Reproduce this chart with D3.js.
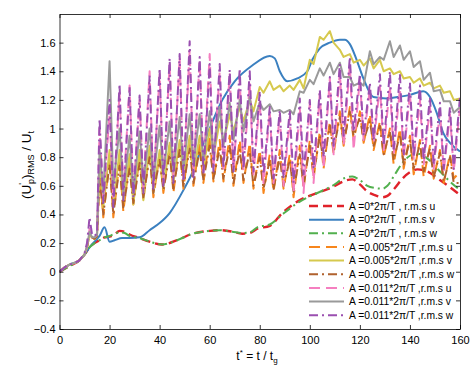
<html><head>
<meta charset="utf-8">
<title>RMS velocity fluctuation</title>
<script src="https://d3js.org/d3.v7.min.js"></script>
<style>
  body { margin: 0; background: #fff; }
  svg text { font-family: "Liberation Sans", Arial, sans-serif; fill: #000; }
  .axis path, .axis line { stroke: #000; stroke-width: 0.8; }
  .axis text { font-size: 11px; }
  .legend text { font-size: 10.3px; }
</style>
</head>
<body>
<svg id="chart" width="474" height="372"></svg>
<script>

// ---- data ----
const xTicks = [0, 20, 40, 60, 80, 100, 120, 140, 160];
const yTicks = [-0.4, -0.2, 0, 0.2, 0.4, 0.6, 0.8, 1, 1.2, 1.4, 1.6];
const yTickLabels = ["\u22120.4", "\u22120.2", "0", "0.2", "0.4", "0.6", "0.8", "1", "1.2", "1.4", "1.6"];

// A = 0 runs (smooth)
const tUW0 = [0, 4, 8, 10, 12, 14, 16, 18, 20, 22,
  24, 26, 28, 32, 36, 41, 47, 53, 60, 64,
  69, 73, 76, 79, 84, 89, 96, 103, 109, 114,
  117, 120, 123, 126, 129, 131, 134, 137, 140, 143,
  147, 152, 156, 160];
const u0 = [0, 0.04, 0.08, 0.12, 0.17, 0.2, 0.22, 0.24, 0.245, 0.26,
  0.285, 0.28, 0.26, 0.235, 0.21, 0.19, 0.22, 0.265, 0.285, 0.29,
  0.28, 0.265, 0.27, 0.30, 0.32, 0.41, 0.50, 0.55, 0.59, 0.635,
  0.645, 0.61, 0.56, 0.535, 0.52, 0.53, 0.585, 0.65, 0.695, 0.715,
  0.70, 0.64, 0.59, 0.536];
const w0 = [0, 0.04, 0.08, 0.12, 0.17, 0.2, 0.22, 0.24, 0.25, 0.265,
  0.275, 0.27, 0.25, 0.235, 0.21, 0.19, 0.22, 0.265, 0.285, 0.29,
  0.28, 0.27, 0.275, 0.31, 0.33, 0.40, 0.49, 0.55, 0.60, 0.655,
  0.665, 0.64, 0.60, 0.585, 0.58, 0.60, 0.68, 0.76, 0.81, 0.825,
  0.79, 0.70, 0.63, 0.57];

const tV0 = [0, 4, 8, 10, 12, 14, 16, 18, 20, 22,
  25, 28, 32, 36, 40, 44, 49.5, 53.5, 56, 60,
  65, 70, 77, 84, 86, 88, 91, 95, 99, 101,
  104, 108, 112, 114, 116, 118.7, 121.4, 125.4, 130.7, 135,
  140, 145.3, 148, 150.7, 153.3, 156, 160];
const v0 = [0, 0.05, 0.08, 0.12, 0.17, 0.21, 0.25, 0.31, 0.21, 0.22,
  0.235, 0.235, 0.24, 0.29, 0.34, 0.41, 0.57, 0.71, 0.83, 1.0,
  1.2, 1.33, 1.44, 1.507, 1.49, 1.40, 1.33, 1.35, 1.40, 1.48,
  1.56, 1.60, 1.62, 1.62, 1.59, 1.48, 1.35, 1.22, 1.21, 1.22,
  1.235, 1.26, 1.22, 1.11, 0.97, 0.90, 0.84];

// forced runs (oscillating: peak, trough pairs)
const tOsc = [0, 2, 4, 6, 8, 10, 11, 12, 13, 14, 15,
  16, 17.5, 20, 21.5, 24, 25.5, 28, 29.5, 32, 33.5, 36, 37.5, 40, 41.5,
  44, 45.5, 48, 49.5, 52, 53.5, 56, 57.5, 60, 61.5, 64, 65.5, 68, 69.5,
  72, 73.5, 76, 77.5, 80, 81.5, 84, 85.5, 88, 89.5, 92, 93.5, 96, 97.5,
  100, 101.5, 104, 105.5, 108, 109.5, 112, 113.5, 116, 117.5, 120, 121.5,
  124, 125.5, 128, 129.5, 132, 133.5, 136, 137.5, 140, 141.5, 144, 145.5,
  148, 149.5, 152, 153.5, 156, 157.5, 160];

const u005 = [0, 0.03, 0.05, 0.06, 0.08, 0.12, 0.17, 0.26, 0.24, 0.23, 0.25,
  0.70, 0.38, 0.80, 0.38, 0.78, 0.42, 0.78, 0.47, 0.80, 0.50, 0.85, 0.52, 0.82, 0.55,
  0.88, 0.55, 0.90, 0.58, 0.92, 0.60, 0.90, 0.62, 0.95, 0.63, 0.92, 0.63, 0.95, 0.60,
  0.92, 0.62, 0.90, 0.58, 0.85, 0.55, 0.82, 0.56, 0.85, 0.58, 0.82, 0.52, 0.88, 0.58,
  0.92, 0.65, 0.98, 0.72, 1.05, 0.82, 1.12, 0.88, 1.15, 0.92, 1.12, 0.90,
  1.10, 0.85, 1.05, 0.80, 1.00, 0.75, 1.00, 0.72, 0.95, 0.68, 0.92, 0.66,
  0.88, 0.65, 0.85, 0.62, 0.82, 0.65, 0.70];
const v005 = [0, 0.03, 0.05, 0.06, 0.08, 0.12, 0.17, 0.26, 0.24, 0.23, 0.25,
  0.75, 0.45, 0.85, 0.45, 0.85, 0.48, 0.82, 0.47, 0.85, 0.50, 0.88, 0.55, 0.85, 0.58,
  0.90, 0.62, 0.92, 0.65, 0.95, 0.68, 0.95, 0.72, 1.00, 0.80, 1.05, 0.90, 1.10, 0.98,
  1.15, 1.05, 1.20, 1.12, 1.29, 1.25, 1.33, 1.27, 1.30, 1.26, 1.30, 1.27, 1.34, 1.28,
  1.48, 1.45, 1.64, 1.62, 1.68, 1.60, 1.55, 1.50, 1.52, 1.46, 1.48, 1.44,
  1.49, 1.42, 1.48, 1.40, 1.42, 1.38, 1.40, 1.35, 1.36, 1.32, 1.35, 1.30,
  1.32, 1.28, 1.30, 1.25, 1.26, 1.20, 1.21];
const w005 = [0, 0.03, 0.05, 0.06, 0.08, 0.12, 0.17, 0.27, 0.24, 0.23, 0.25,
  0.65, 0.40, 0.75, 0.40, 0.74, 0.45, 0.72, 0.48, 0.76, 0.52, 0.80, 0.55, 0.78, 0.57,
  0.82, 0.58, 0.85, 0.60, 0.86, 0.62, 0.85, 0.64, 0.88, 0.65, 0.86, 0.65, 0.88, 0.62,
  0.85, 0.64, 0.84, 0.60, 0.80, 0.58, 0.78, 0.58, 0.80, 0.60, 0.78, 0.56, 0.82, 0.60,
  0.88, 0.68, 0.95, 0.76, 1.02, 0.85, 1.08, 0.90, 1.12, 0.95, 1.08, 0.92,
  1.05, 0.88, 1.02, 0.82, 0.98, 0.78, 0.96, 0.75, 0.92, 0.72, 0.90, 0.70,
  0.86, 0.66, 0.83, 0.63, 0.80, 0.62, 0.62];

const u011 = [0, 0.03, 0.05, 0.06, 0.08, 0.12, 0.18, 0.30, 0.25, 0.24, 0.26,
  1.00, 0.50, 1.10, 0.50, 1.25, 0.55, 1.30, 0.55, 1.20, 0.58, 1.40, 0.60, 1.38, 0.62,
  1.45, 0.65, 1.50, 0.65, 1.55, 0.68, 1.48, 0.70, 1.52, 0.72, 1.40, 0.72, 1.38, 0.70,
  1.35, 0.70, 1.32, 0.68, 1.20, 0.62, 1.12, 0.62, 1.10, 0.60, 1.08, 0.55, 1.15, 0.55,
  1.18, 0.62, 1.25, 0.72, 1.35, 0.82, 1.40, 0.88, 1.45, 0.85, 1.35, 0.92,
  1.28, 0.90, 1.30, 0.85, 1.30, 0.82, 1.28, 0.80, 1.25, 0.78, 1.20, 0.75,
  1.15, 0.72, 1.12, 0.70, 1.10, 0.70, 1.15];
const v011 = [0, 0.03, 0.05, 0.06, 0.08, 0.12, 0.18, 0.28, 0.24, 0.24, 0.26,
  0.85, 0.55, 1.47, 0.60, 1.00, 0.55, 0.95, 0.55, 0.98, 0.62, 1.00, 0.64, 1.02, 0.68,
  1.05, 0.70, 1.08, 0.72, 1.10, 0.75, 1.10, 0.78, 1.12, 0.82, 1.15, 0.88, 1.18, 0.92,
  1.20, 0.98, 1.22, 1.05, 1.18, 1.13, 1.17, 1.12, 1.13, 1.11, 1.13, 1.10, 1.26, 1.25,
  1.34, 1.31, 1.42, 1.37, 1.46, 1.38, 1.46, 1.36, 1.36, 1.30, 1.32, 1.30,
  1.54, 1.45, 1.50, 1.48, 1.61, 1.50, 1.58, 1.48, 1.54, 1.43, 1.47, 1.34,
  1.39, 1.26, 1.27, 1.19, 1.19, 1.11, 1.15];
const w011 = [0, 0.03, 0.05, 0.06, 0.08, 0.13, 0.2, 0.38, 0.26, 0.25, 0.27,
  1.07, 0.48, 1.20, 0.45, 1.31, 0.50, 1.29, 0.52, 1.23, 0.55, 1.37, 0.57, 1.42, 0.60,
  1.49, 0.62, 1.52, 0.63, 1.61, 0.66, 1.50, 0.68, 1.45, 0.70, 1.45, 0.72, 1.41, 0.70,
  1.42, 0.72, 1.40, 0.70, 1.26, 0.68, 1.15, 0.65, 1.13, 0.66, 1.13, 0.62, 1.21, 0.68,
  1.20, 0.72, 1.27, 0.80, 1.36, 0.88, 1.45, 0.95, 1.50, 0.98, 1.38, 0.95,
  1.32, 0.92, 1.38, 0.88, 1.40, 0.85, 1.38, 0.82, 1.32, 0.80, 1.30, 0.78,
  1.22, 0.75, 1.18, 0.72, 1.15, 0.72, 1.22];

const legendLabels = [
  "A =0*2\u03c0/T , r.m.s u", "A =0*2\u03c0/T , r.m.s v", "A =0*2\u03c0/T , r.m.s w",
  "A =0.005*2\u03c0/T ,r.m.s u", "A =0.005*2\u03c0/T ,r.m.s v", "A =0.005*2\u03c0/T ,r.m.s w",
  "A =0.011*2\u03c0/T ,r.m.s u", "A =0.011*2\u03c0/T ,r.m.s v", "A =0.011*2\u03c0/T ,r.m.s w"
];

// series table (drawing order = legend order, last on top)
const series = [
  { label: legendLabels[0], t: tUW0, v: u0,   color: "#e0222a", dash: "9,5",        width: 2.4, smooth: true },
  { label: legendLabels[1], t: tV0,  v: v0,   color: "#3b80c0", dash: null,         width: 2,   smooth: true },
  { label: legendLabels[2], t: tUW0, v: w0,   color: "#52b04e", dash: "9,4,2,4",    width: 2,   smooth: true },
  { label: legendLabels[3], t: tOsc, v: u005, color: "#f7861c", dash: "11,6",       width: 2,   smooth: false },
  { label: legendLabels[4], t: tOsc, v: v005, color: "#d6c94e", dash: null,         width: 2,   smooth: false },
  { label: legendLabels[5], t: tOsc, v: w005, color: "#b0622e", dash: "9,4,2,4",    width: 2,   smooth: false },
  { label: legendLabels[6], t: tOsc, v: u011, color: "#f57fc0", dash: "11,6",       width: 2,   smooth: false },
  { label: legendLabels[7], t: tOsc, v: v011, color: "#9a9a9a", dash: null,         width: 2,   smooth: false },
  { label: legendLabels[8], t: tOsc, v: w011, color: "#9a4fb0", dash: "9,4,2,4",    width: 2,   smooth: false }
];

// ---- layout ----
const svg = d3.select("svg#chart");
const plot = { left: 59.5, right: 460, top: 14, bottom: 329 };

const x = d3.scaleLinear().domain([0, 160]).range([plot.left, plot.right]);
const y = d3.scaleLinear().domain([-0.4, 1.8]).range([plot.bottom, plot.top]);

svg.append("rect").attr("width", 474).attr("height", 372).attr("fill", "#fff");

svg.append("clipPath").attr("id", "clip")
  .append("rect")
  .attr("x", plot.left).attr("y", plot.top)
  .attr("width", plot.right - plot.left).attr("height", plot.bottom - plot.top);

// lines
const lineArea = svg.append("g").attr("clip-path", "url(#clip)");
series.forEach(s => {
  const pts = s.t.map((t, i) => [t, s.v[i]]);
  const line = d3.line()
    .x(d => x(d[0]))
    .y(d => y(d[1]))
    .curve(s.smooth ? d3.curveMonotoneX : d3.curveLinear);
  lineArea.append("path")
    .datum(pts)
    .attr("d", line)
    .attr("fill", "none")
    .attr("stroke", s.color)
    .attr("stroke-width", s.width)
    .attr("stroke-linejoin", "round")
    .attr("stroke-dasharray", s.dash);
});

// axes, ticks inward on all four sides
svg.append("g").attr("class", "axis")
  .attr("transform", "translate(0," + plot.bottom + ")")
  .call(d3.axisBottom(x).tickValues(xTicks).tickSize(-4).tickSizeOuter(0).tickPadding(7)
    .tickFormat(d3.format("d")));
svg.append("g").attr("class", "axis")
  .attr("transform", "translate(0," + plot.top + ")")
  .call(d3.axisTop(x).tickValues(xTicks).tickSize(-4).tickSizeOuter(0).tickFormat(""));
svg.append("g").attr("class", "axis")
  .attr("transform", "translate(" + plot.left + ",0)")
  .call(d3.axisLeft(y).tickValues(yTicks).tickSize(-4).tickSizeOuter(0).tickPadding(4)
    .tickFormat((d, i) => yTickLabels[i]));
svg.append("g").attr("class", "axis")
  .attr("transform", "translate(" + plot.right + ",0)")
  .call(d3.axisRight(y).tickValues(yTicks).tickSize(-4).tickSizeOuter(0).tickFormat(""));

// axis titles
const xt = svg.append("text")
  .attr("x", 257).attr("y", 360)
  .attr("text-anchor", "middle")
  .style("font-size", "12px");
xt.append("tspan").text("t");
xt.append("tspan").attr("dy", -5).style("font-size", "8px").text("*");
xt.append("tspan").attr("dy", 5).text(" = t / t");
xt.append("tspan").attr("dy", 3).style("font-size", "8px").text("g");

const yt = svg.append("text")
  .attr("transform", "translate(31,165) rotate(-90)")
  .attr("text-anchor", "middle")
  .style("font-size", "13.5px");
yt.append("tspan").text("(U");
yt.append("tspan").attr("dy", -6).style("font-size", "9px").text("'");
yt.append("tspan").attr("dx", -1).attr("dy", 9).style("font-size", "9px").text("p");
yt.append("tspan").attr("dy", -3).text(")");
yt.append("tspan").attr("dy", 3).style("font-size", "9px").text("RMS");
yt.append("tspan").attr("dy", -3).text(" / U");
yt.append("tspan").attr("dy", 3).style("font-size", "9px").text("t");

// legend
const legend = svg.append("g").attr("class", "legend");
series.forEach((s, i) => {
  const ly = 206 + i * 13.65;
  legend.append("line")
    .attr("x1", 309).attr("x2", 344)
    .attr("y1", ly).attr("y2", ly)
    .attr("stroke", s.color)
    .attr("stroke-width", s.width)
    .attr("stroke-dasharray", s.dash);
  legend.append("text")
    .attr("x", 349).attr("y", ly)
    .attr("dy", "0.35em")
    .text(s.label);
});

</script>
</body>
</html>
